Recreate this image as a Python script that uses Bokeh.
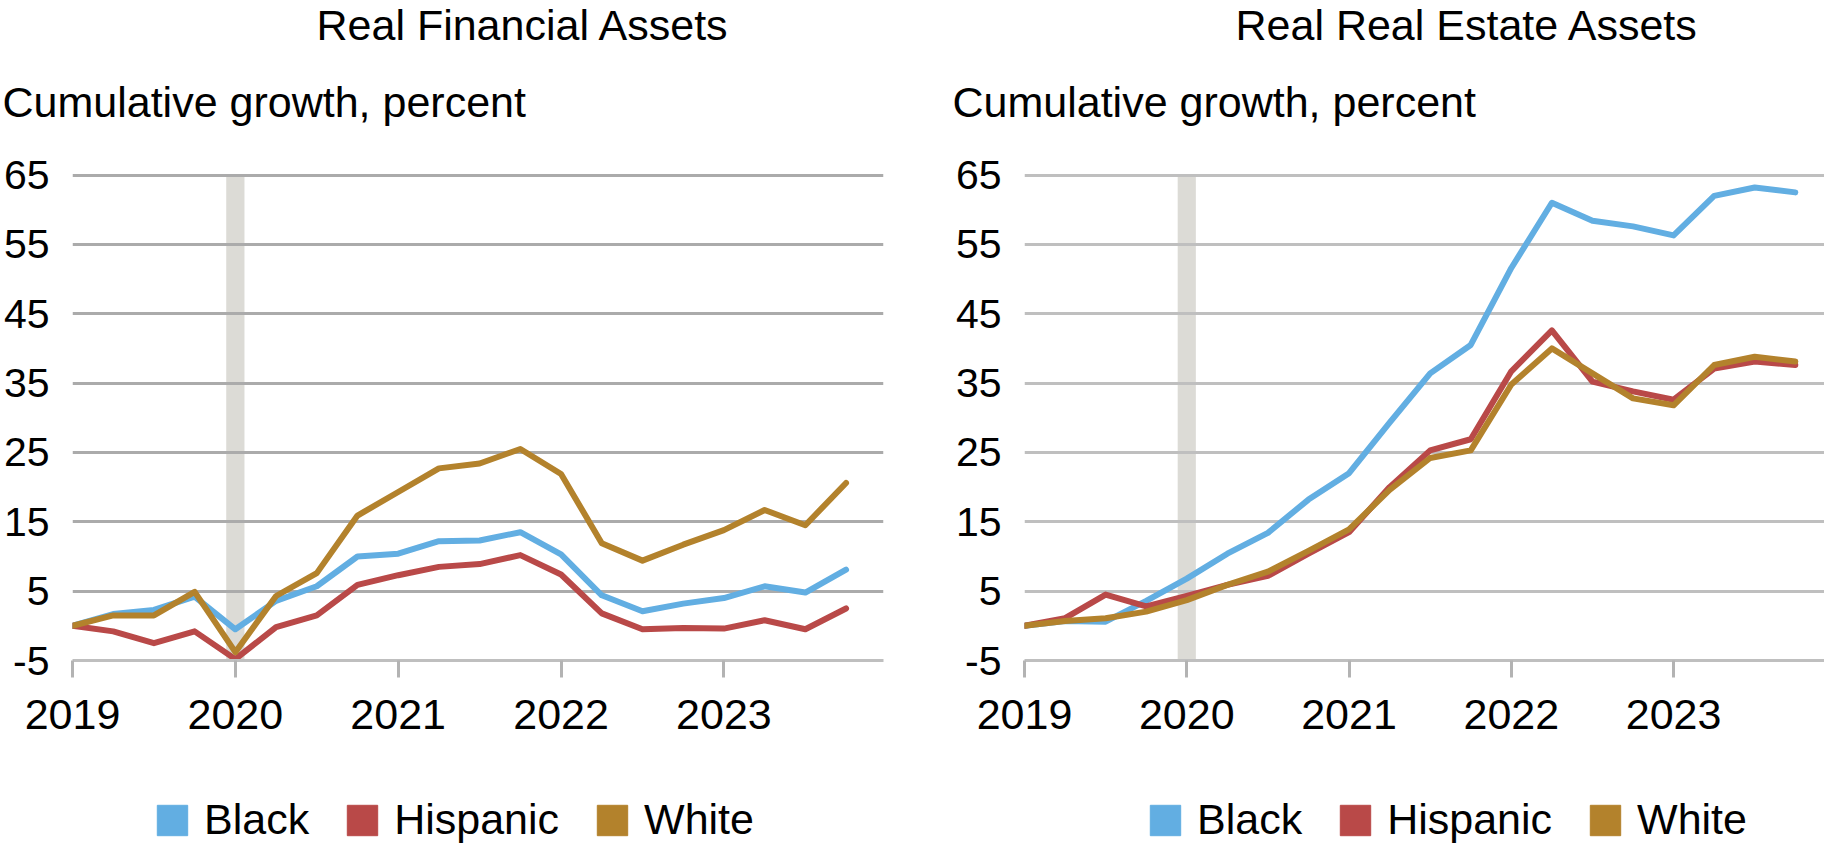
import math
from bokeh.plotting import figure
from bokeh.models import FixedTicker, BoxAnnotation, Legend, LegendItem, Range1d, Title
from bokeh.layouts import row, column
from bokeh.embed import file_html
from bokeh.resources import INLINE

# ---------------- data ----------------
quarter_labels = ["2019Q1", "2019Q2", "2019Q3", "2019Q4",
                  "2020Q1", "2020Q2", "2020Q3", "2020Q4",
                  "2021Q1", "2021Q2", "2021Q3", "2021Q4",
                  "2022Q1", "2022Q2", "2022Q3", "2022Q4",
                  "2023Q1", "2023Q2", "2023Q3", "2023Q4"]

year_ticks = [2019, 2020, 2021, 2022, 2023]
y_ticks = [-5, 5, 15, 25, 35, 45, 55, 65]
recession_quarter = "2020Q1"

series_names = ["Black", "Hispanic", "White"]
series_colors = ["#62AEE2", "#B94948", "#B3822C"]

fin_black = [0, 1.7, 2.3, 4.2, -0.5, 3.6, 5.7, 10.0, 10.4, 12.2,
             12.3, 13.5, 10.3, 4.4, 2.1, 3.2, 4.0, 5.7, 4.8, 8.1]
fin_hispanic = [0, -0.8, -2.5, -0.8, -4.8, -0.2, 1.5, 5.9, 7.3, 8.5,
                8.9, 10.2, 7.4, 1.8, -0.5, -0.3, -0.4, 0.8, -0.5, 2.5]
fin_white = [0, 1.5, 1.5, 4.9, -3.8, 4.3, 7.6, 15.9, 19.3, 22.7,
             23.4, 25.5, 21.9, 11.9, 9.4, 11.7, 13.8, 16.7, 14.5, 20.6]

re_black = [0, 0.7, 0.6, 3.6, 6.8, 10.4, 13.4, 18.2, 22.0, 29.3,
            36.4, 40.5, 51.6, 61.0, 58.4, 57.6, 56.3, 62.0, 63.2, 62.5]
re_hispanic = [0, 1.1, 4.5, 2.8, 4.3, 5.9, 7.2, 10.4, 13.5, 20.0,
               25.3, 26.9, 36.7, 42.6, 35.2, 33.8, 32.6, 37.1, 38.1, 37.6]
re_white = [0, 0.7, 1.1, 2.05, 3.7, 5.9, 7.8, 10.8, 13.9, 19.6,
            24.2, 25.3, 34.8, 40.0, 36.4, 32.8, 31.8, 37.6, 38.8, 38.1]


def q_to_year(q):
    return int(q[:4]) + (int(q[5]) - 1) / 4.0


quarters = [q_to_year(q) for q in quarter_labels]
rec_x = q_to_year(recession_quarter)

FONT = "Liberation Sans"
MAIN_H = 770
LEG_H = 74


def make_panel(title, ylabel, series, border_left, border_right,
               x_end, grid_color, title_offset, ylabel_offset):
    p = figure(width=912, height=MAIN_H,
               output_backend="svg", toolbar_location=None,
               x_range=Range1d(year_ticks[0], x_end),
               y_range=Range1d(y_ticks[0], 67.96),
               min_border_left=border_left, min_border_right=border_right,
               min_border_top=150, min_border_bottom=110,
               background_fill_color="white", border_fill_color="white",
               outline_line_color=None)

    # recession shading
    box = BoxAnnotation(left=rec_x - 0.056, right=rec_x + 0.056,
                        bottom=y_ticks[0], top=y_ticks[-1],
                        fill_color="#DCDBD6", fill_alpha=1.0,
                        line_color=None, level="image")
    p.add_layout(box)

    # axes
    p.xaxis.ticker = FixedTicker(ticks=year_ticks)
    p.xaxis.major_tick_out = 17
    p.xaxis.major_tick_in = 0
    p.xaxis.minor_tick_line_color = None
    p.xaxis.major_tick_line_color = "#B3B3B3"
    p.xaxis.major_tick_line_width = 3
    p.xaxis.axis_line_color = "#BFBFBF"
    p.xaxis.axis_line_width = 3
    p.xaxis.major_label_text_font = FONT
    p.xaxis.major_label_text_font_size = "43px"
    p.xaxis.major_label_text_color = "black"
    p.xaxis.major_label_standoff = 22

    p.yaxis.ticker = FixedTicker(ticks=y_ticks)
    p.yaxis.major_label_overrides = {-5: "-5"}
    p.yaxis.axis_line_color = None
    p.yaxis.major_tick_line_color = None
    p.yaxis.minor_tick_line_color = None
    p.yaxis.major_tick_out = 0
    p.yaxis.major_tick_in = 0
    p.yaxis.major_label_text_font = FONT
    p.yaxis.major_label_text_font_size = "41px"
    p.yaxis.major_label_text_color = "black"
    p.yaxis.major_label_standoff = 23

    p.xgrid.visible = False
    p.ygrid.ticker = FixedTicker(ticks=y_ticks)
    p.ygrid.grid_line_color = grid_color
    p.ygrid.grid_line_width = 3

    # lines
    for vals, color in zip(series, series_colors):
        p.line(quarters, vals, line_color=color, line_width=6,
               line_join="round", line_cap="round")

    # unit label (inner) and panel title (outer)
    p.add_layout(Title(text=ylabel, align="left", offset=ylabel_offset,
                       vertical_align="top", standoff=54,
                       text_font=FONT, text_font_size="43px",
                       text_font_style="normal", text_color="black"), "above")
    p.add_layout(Title(text=title, align="left", offset=title_offset,
                       vertical_align="top", standoff=0,
                       text_font=FONT, text_font_size="43px",
                       text_font_style="normal", text_color="black"), "above")
    return p


def make_legend(legend_x):
    p = figure(width=912, height=LEG_H, output_backend="svg",
               toolbar_location=None, x_range=Range1d(0, 1),
               y_range=Range1d(0, 1), x_axis_location=None,
               y_axis_location=None, min_border=0,
               background_fill_color="white", border_fill_color="white",
               outline_line_color=None)
    p.xgrid.visible = False
    p.ygrid.visible = False
    items = []
    nan = [math.nan]
    for name, color in zip(series_names, series_colors):
        # swatch-only renderer (no visible mark in the plot area)
        r = p.quad(left=nan, right=nan, top=nan, bottom=nan,
                   fill_color=color, line_color=color)
        items.append(LegendItem(label=name, renderers=[r]))
    legend = Legend(items=items, orientation="horizontal",
                    location=(legend_x, 0),
                    glyph_width=38, glyph_height=38, label_standoff=13,
                    spacing=34, padding=0, margin=0,
                    border_line_color=None, background_fill_alpha=0,
                    label_text_font=FONT, label_text_font_size="43px",
                    label_text_color="black")
    p.add_layout(legend)
    return p


left = make_panel("Real Financial Assets", "Cumulative growth, percent",
                  [fin_black, fin_hispanic, fin_white],
                  border_left=70, border_right=29,
                  x_end=2023.98, grid_color="#ABABAB",
                  title_offset=244, ylabel_offset=-70)
right = make_panel("Real Real Estate Assets", "Cumulative growth, percent",
                   [re_black, re_hispanic, re_white],
                   border_left=112, border_right=0,
                   x_end=2023.93, grid_color="#BFBFBF",
                   title_offset=211, ylabel_offset=-72)

leg_left = make_legend(153)
leg_right = make_legend(234)

layout = column(row(left, right, spacing=0), row(leg_left, leg_right, spacing=0),
                spacing=0)
open("out.html", "w").write(file_html(layout, INLINE))
